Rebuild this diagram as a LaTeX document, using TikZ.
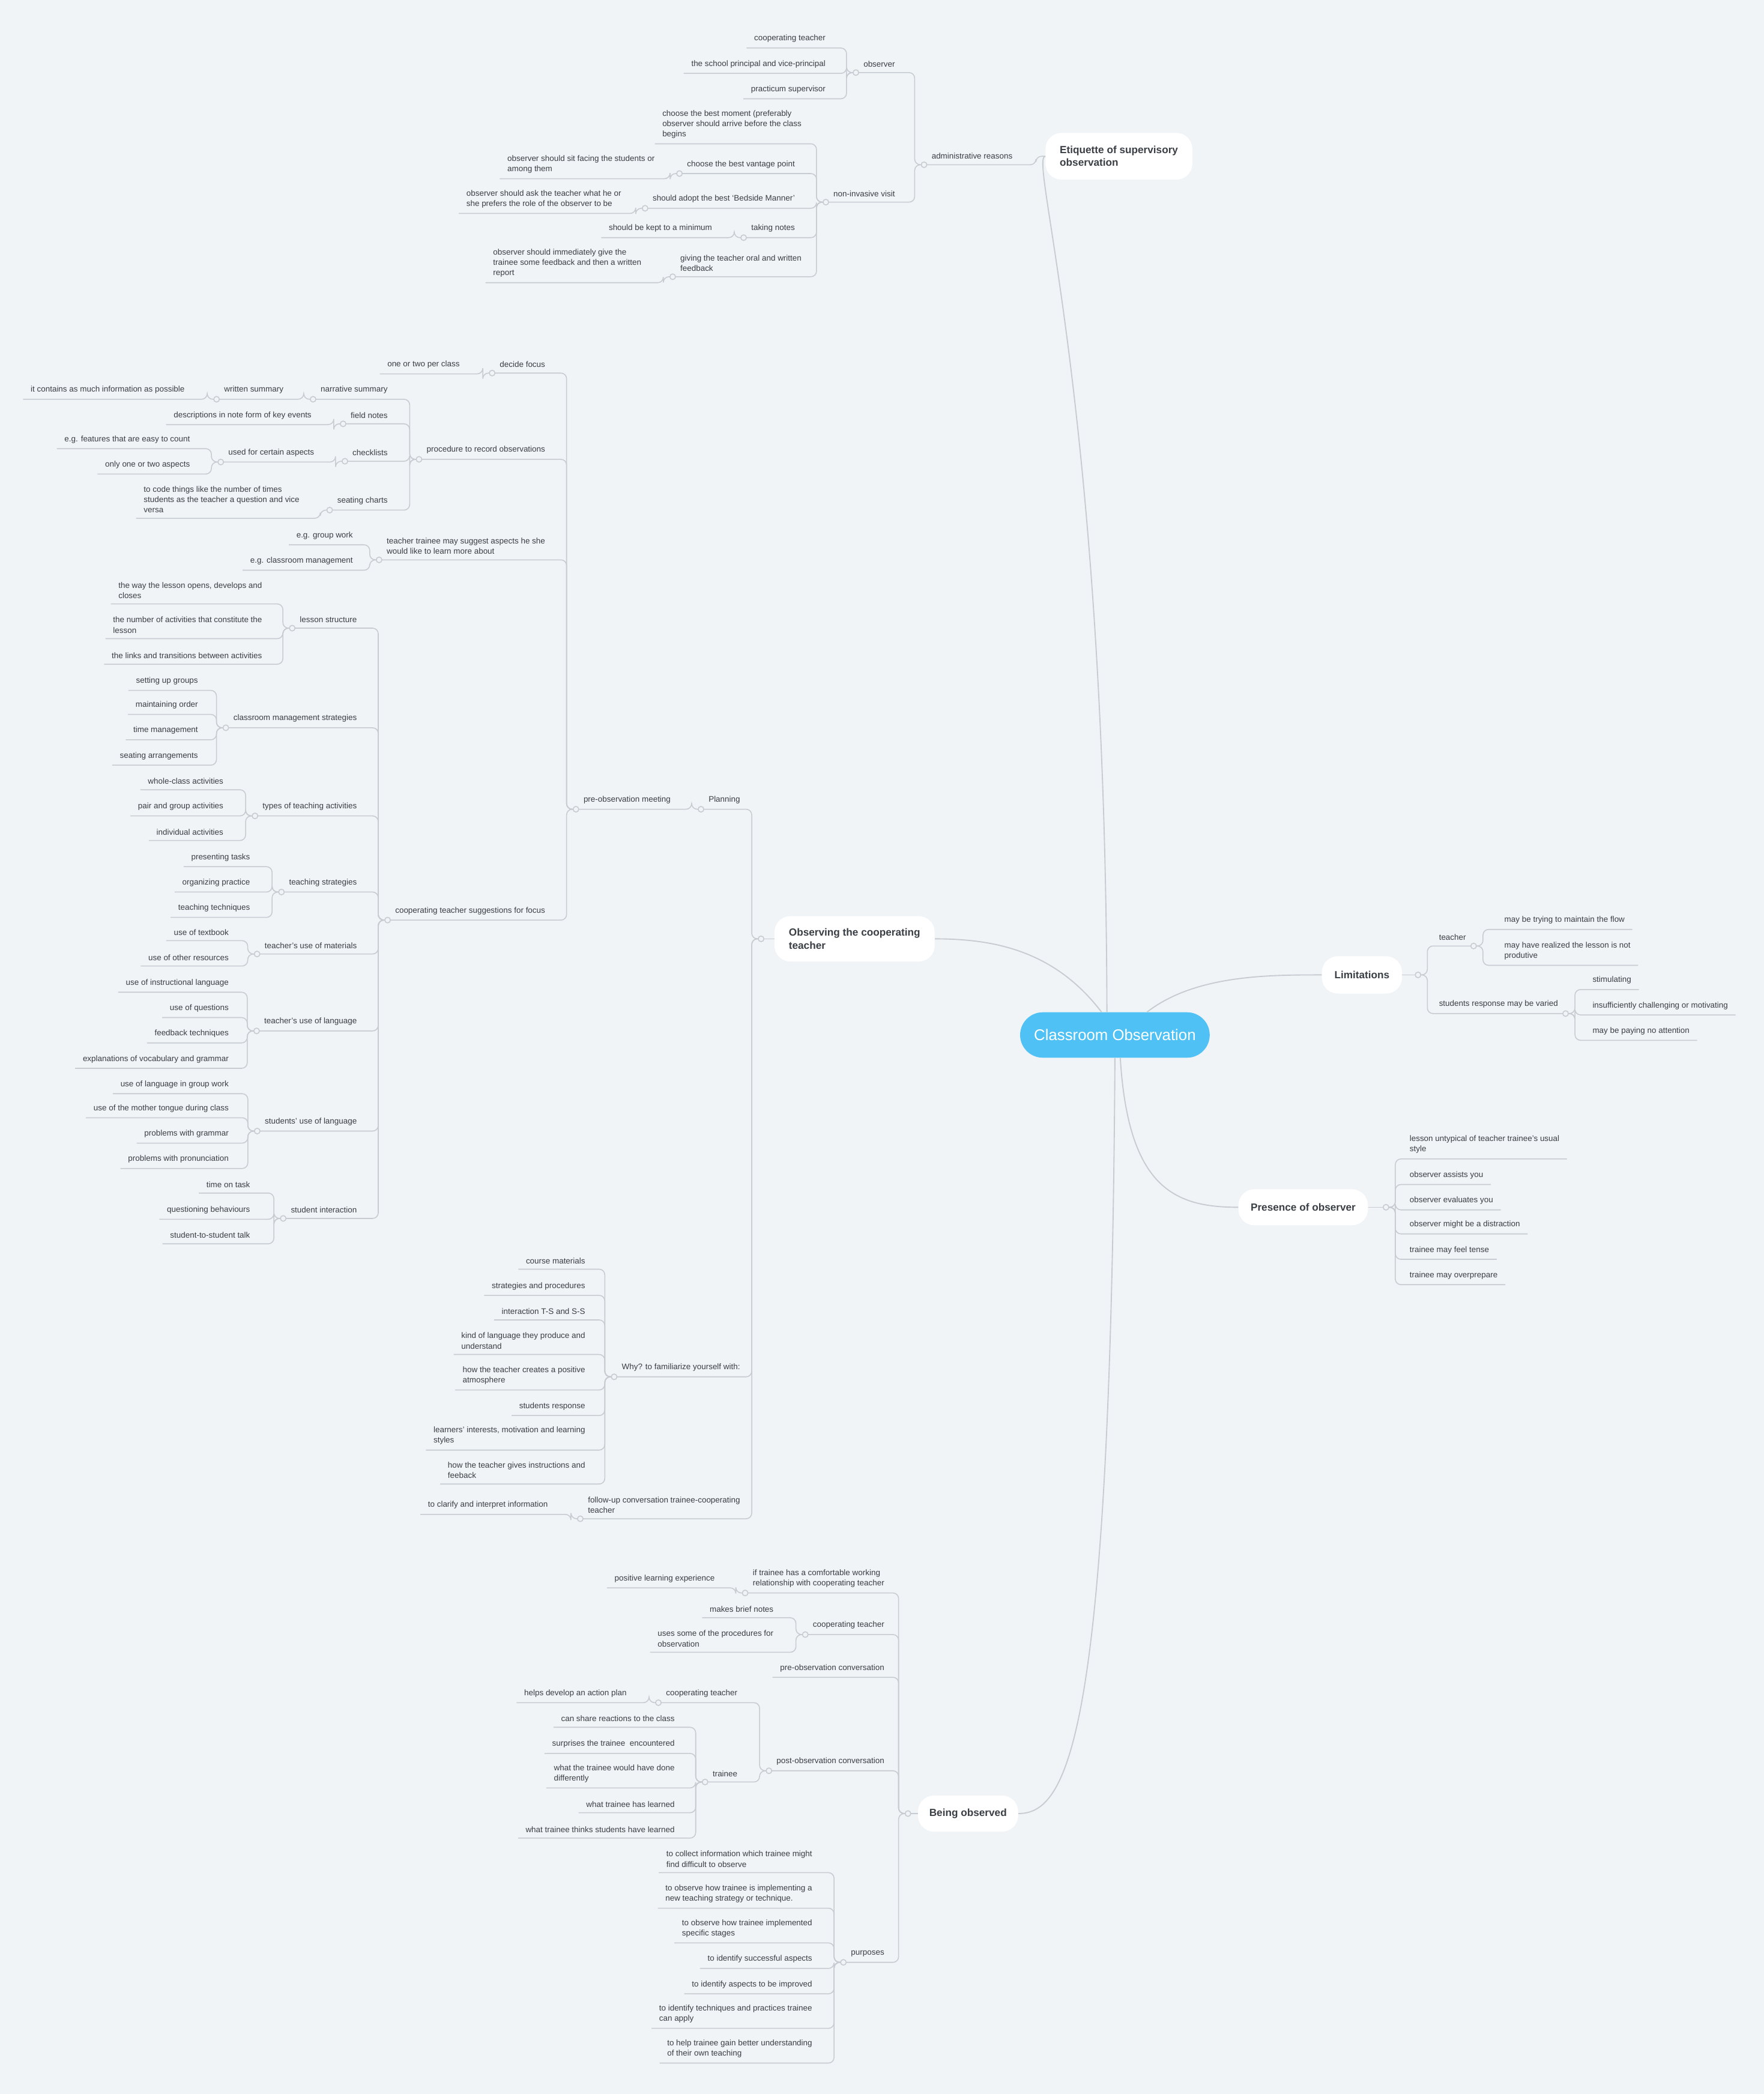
\documentclass[tikz,border=0pt]{standalone}
\usepackage{fontspec}
\setmainfont{Liberation Sans}
\definecolor{bg}{HTML}{F0F4F7}
\definecolor{lineC}{HTML}{C6CCD2}
\definecolor{txt}{HTML}{3A3F45}
\definecolor{rootC}{HTML}{4FC1F5}
\tikzset{
 lf/.style={font=\fontsize{8.6}{11}\selectfont, text=txt, align=left, inner xsep=0.28cm, inner ysep=0.2cm},
 con/.style={draw=lineC, line width=1pt, rounded corners=6pt},
 curv/.style={draw=lineC, line width=1.2pt},
 cir/.style={draw=lineC, fill=bg, line width=1pt},
 lone/.style={fill=white, rounded corners=0.6cm, font=\fontsize{11}{13.5}\selectfont\bfseries, text=txt, align=left, inner xsep=0.3cm},
}
\newcommand\Lk[2]{\draw[con] (#1) -- ++(-7,0) |- (#2.south west);}
\newcommand\Rk[2]{\draw[con] (#1) -- ++(7,0) |- (#2.south east);}
\newcommand\LL[4]{\node[lf,anchor=east] (tmp) at (#2,#3) {#4}; \Lk{#1}{tmp}}
\newcommand\LP[5]{\node[lf,anchor=east] (#1) at (#3,#4) {#5}; \Lk{#2}{#1}}
\newcommand\RL[4]{\node[lf,anchor=west] (tmp) at (#2,#3) {#4}; \Rk{#1}{tmp}}
\newcommand\RP[5]{\node[lf,anchor=west] (#1) at (#3,#4) {#5}; \Rk{#2}{#1}}
\newcommand\Cir[1]{\filldraw[cir] (#1) circle (3pt);}
\begin{document}
\begin{tikzpicture}[x=0.05cm,y=-0.05cm]
\fill[bg] (0,0) rectangle (1321,1568);
\useasboundingbox (0,0) rectangle (1321,1568);
% root and level 1
\node[fill=rootC, text=white, rounded corners=0.85cm, minimum width=7.1cm, minimum height=1.7cm, font=\fontsize{16.5}{18}\selectfont] (root) at (835,775) {Classroom Observation};
\node[lone, minimum width=5.5cm, minimum height=1.75cm] (ety) at (838,117) {Etiquette of supervisory\\observation};
\node[lone, minimum width=6cm, minimum height=1.7cm] (obs) at (640,703) {Observing the cooperating\\teacher};
\node[lone, minimum width=3cm, minimum height=1.4cm] (lim) at (1020,730) {Limitations};
\node[lone, minimum width=4.85cm, minimum height=1.35cm] (pres) at (976,904) {Presence of observer};
\node[lone, minimum width=3.75cm, minimum height=1.35cm] (be) at (725,1358) {Being observed};
\draw[curv] ([xshift=-0.3cm]root.north) .. controls (828,300) and (770,117) .. (ety.west);
\draw[curv] ([xshift=-0.5cm]root.north) .. controls (790,712) and (745,703) .. (obs.east);
\draw[curv] ([xshift=1.2cm]root.north) .. controls (895,730) and (950,730) .. (lim.west);
\draw[curv] ([xshift=0.2cm]root.south) .. controls (845,890) and (880,904) .. (pres.west);
\draw[curv] (root.south) .. controls (832,1300) and (800,1358) .. (be.east);
\coordinate (cobs) at (570,703);
\coordinate (cbe) at (680,1358);
\coordinate (clim) at (1062,730);
\coordinate (cpr) at (1038,904);
\draw[con] (obs.west) -- (cobs);
\draw[con] (be.west) -- (cbe);
\draw[con] (lim.east) -- (clim);
\draw[con] (pres.east) -- (cpr);
% Etiquette
\LP{adm}{ety.west}{764}{117}{administrative reasons}
\LP{obsv}{adm.south west}{676}{48}{observer}
\LL{obsv.south west}{624}{29}{cooperating teacher}
\LL{obsv.south west}{624}{48}{the school principal and vice-principal}
\LL{obsv.south west}{624}{67}{practicum supervisor}
\LP{niv}{adm.south west}{676}{145}{non-invasive visit}
\LL{niv.south west}{606}{93}{choose the best moment (preferably\\observer should arrive before the class\\begins}
\LP{m2}{niv.south west}{601}{123}{choose the best vantage point}
\LL{m2.south west}{496}{123}{observer should sit facing the students or\\among them}
\LP{m3}{niv.south west}{601}{149}{should adopt the best `Bedside Manner'}
\LL{m3.south west}{471}{149}{observer should ask the teacher what he or\\she prefers the role of the observer to be}
\LP{m4}{niv.south west}{601}{171}{taking notes}
\LL{m4.south west}{539}{171}{should be kept to a minimum}
\LP{m5}{niv.south west}{606}{197}{giving the teacher oral and written\\feedback}
\LL{m5.south west}{486}{197}{observer should immediately give the\\trainee some feedback and then a written\\report}
% Observing
\LP{pl}{cobs}{560}{599}{Planning}
\LP{pom}{pl.south west}{508}{599}{pre-observation meeting}
\LP{df}{pom.south west}{414}{273}{decide focus}
\LL{df.south west}{350}{273}{one or two per class}
\LP{pro}{pom.south west}{414}{337}{procedure to record observations}
\LP{ns}{pro.south west}{296}{292}{narrative summary}
\LP{ws}{ns.south west}{218}{292}{written summary}
\LL{ws.south west}{144}{292}{it contains as much information as possible}
\LP{fn}{pro.south west}{296}{311}{field notes}
\LL{fn.south west}{239}{311}{descriptions in note form of key events}
\LP{ck}{pro.south west}{296}{339}{checklists}
\LP{ua}{ck.south west}{241}{339}{used for certain aspects}
\LL{ua.south west}{148}{329}{e.g. features that are easy to count}
\LL{ua.south west}{148}{348}{only one or two aspects}
\LP{sc}{pro.south west}{296}{375}{seating charts}
\LL{sc.south west}{230}{374}{to code things like the number of times\\students as the teacher a question and vice\\versa}
\LP{tt}{pom.south west}{414}{409}{teacher trainee may suggest aspects he she\\would like to learn more about}
\LL{tt.south west}{270}{401}{e.g. group work}
\LL{tt.south west}{270}{420}{e.g. classroom management}
\LP{cts}{pom.south west}{414}{682}{cooperating teacher suggestions for focus}
\LP{ls}{cts.south west}{273}{464}{lesson structure}
\LL{ls.south west}{202}{442}{the way the lesson opens, develops and\\closes}
\LL{ls.south west}{202}{468}{the number of activities that constitute the\\lesson}
\LL{ls.south west}{202}{491}{the links and transitions between activities}
\LP{cm}{cts.south west}{273}{538}{classroom management strategies}
\LL{cm.south west}{154}{510}{setting up groups}
\LL{cm.south west}{154}{528}{maintaining order}
\LL{cm.south west}{154}{547}{time management}
\LL{cm.south west}{154}{566}{seating arrangements}
\LP{ty}{cts.south west}{273}{604}{types of teaching activities}
\LL{ty.south west}{173}{585}{whole-class activities}
\LL{ty.south west}{173}{604}{pair and group activities}
\LL{ty.south west}{173}{623}{individual activities}
\LP{ts}{cts.south west}{273}{661}{teaching strategies}
\LL{ts.south west}{193}{642}{presenting tasks}
\LL{ts.south west}{193}{661}{organizing practice}
\LL{ts.south west}{193}{680}{teaching techniques}
\LP{tm}{cts.south west}{273}{708}{teacher's use of materials}
\LL{tm.south west}{177}{698}{use of textbook}
\LL{tm.south west}{177}{717}{use of other resources}
\LP{tl}{cts.south west}{273}{765}{teacher's use of language}
\LL{tl.south west}{177}{736}{use of instructional language}
\LL{tl.south west}{177}{755}{use of questions}
\LL{tl.south west}{177}{774}{feedback techniques}
\LL{tl.south west}{177}{793}{explanations of vocabulary and grammar}
\LP{su}{cts.south west}{273}{840}{students' use of language}
\LL{su.south west}{177}{812}{use of language in group work}
\LL{su.south west}{177}{830}{use of the mother tongue during class}
\LL{su.south west}{177}{849}{problems with grammar}
\LL{su.south west}{177}{868}{problems with pronunciation}
\LP{si}{cts.south west}{273}{906}{student interaction}
\LL{si.south west}{193}{887}{time on task}
\LL{si.south west}{193}{906}{questioning behaviours}
\LL{si.south west}{193}{925}{student-to-student talk}
\LP{wy}{cobs}{560}{1024}{Why? to familiarize yourself with:}
\LL{wy.south west}{444}{944}{course materials}
\LL{wy.south west}{444}{963}{strategies and procedures}
\LL{wy.south west}{444}{982}{interaction T-S and S-S}
\LL{wy.south west}{444}{1004}{kind of language they produce and\\understand}
\LL{wy.south west}{444}{1030}{how the teacher creates a positive\\atmosphere}
\LL{wy.south west}{444}{1053}{students response}
\LL{wy.south west}{444}{1075}{learners' interests, motivation and learning\\styles}
\LL{wy.south west}{444}{1101}{how the teacher gives instructions and\\feeback}
\LP{fu}{cobs}{560}{1127}{follow-up conversation trainee-cooperating\\teacher}
\LL{fu.south west}{416}{1127}{to clarify and interpret information}
% Limitations
\RP{te}{clim}{1072}{702}{teacher}
\RL{te.south east}{1121}{689}{may be trying to maintain the flow}
\RL{te.south east}{1121}{712}{may have realized the lesson is not\\produtive}
\RP{sr}{clim}{1072}{752}{students response may be varied}
\RL{sr.south east}{1187}{734}{stimulating}
\RL{sr.south east}{1187}{753}{insufficiently challenging or motivating}
\RL{sr.south east}{1187}{772}{may be paying no attention}
% Presence
\RL{cpr}{1050}{857}{lesson untypical of teacher trainee's usual\\style}
\RL{cpr}{1050}{880}{observer assists you}
\RL{cpr}{1050}{899}{observer evaluates you}
\RL{cpr}{1050}{917}{observer might be a distraction}
\RL{cpr}{1050}{936}{trainee may feel tense}
\RL{cpr}{1050}{955}{trainee may overprepare}
% Being observed
\LP{ift}{cbe}{668}{1182}{if trainee has a comfortable working\\relationship with cooperating teacher}
\LL{ift.south west}{541}{1182}{positive learning experience}
\LP{ct}{cbe}{668}{1217}{cooperating teacher}
\LL{ct.south west}{585}{1205}{makes brief notes}
\LL{ct.south west}{585}{1227}{uses some of the procedures for\\observation}
\LL{cbe}{668}{1249}{pre-observation conversation}
\LP{po}{cbe}{668}{1319}{post-observation conversation}
\LP{ctt}{po.south west}{558}{1268}{cooperating teacher}
\LL{ctt.south west}{475}{1268}{helps develop an action plan}
\LP{tr}{po.south west}{558}{1328}{trainee}
\LL{tr.south west}{511}{1287}{can share reactions to the class}
\LL{tr.south west}{511}{1306}{surprises the trainee\ \ encountered}
\LL{tr.south west}{511}{1328}{what the trainee would have done\\differently}
\LL{tr.south west}{511}{1351}{what trainee has learned}
\LL{tr.south west}{511}{1370}{what trainee thinks students have learned}
\LP{pu}{cbe}{668}{1463}{purposes}
\LL{pu.south west}{614}{1392}{to collect information which trainee might\\find difficult to observe}
\LL{pu.south west}{614}{1418}{to observe how trainee is implementing a\\new teaching strategy or technique.}
\LL{pu.south west}{614}{1444}{to observe how trainee implemented\\specific stages}
\LL{pu.south west}{614}{1467}{to identify successful aspects}
\LL{pu.south west}{614}{1486}{to identify aspects to be improved}
\LL{pu.south west}{614}{1508}{to identify techniques and practices trainee\\can apply}
\LL{pu.south west}{614}{1534}{to help trainee gain better understanding\\of their own teaching}
% circles
\foreach \p in {adm,obsv,niv,m2,m3,m4,m5,pl,pom,df,pro,ns,ws,fn,ck,ua,sc,tt,cts,ls,cm,ty,ts,tm,tl,su,si,wy,fu,ift,ct,po,ctt,tr,pu}{\Cir{\p.south west}}
\foreach \p in {te,sr}{\Cir{\p.south east}}
\Cir{cobs}\Cir{cbe}\Cir{clim}\Cir{cpr}
\end{tikzpicture}
\end{document}
